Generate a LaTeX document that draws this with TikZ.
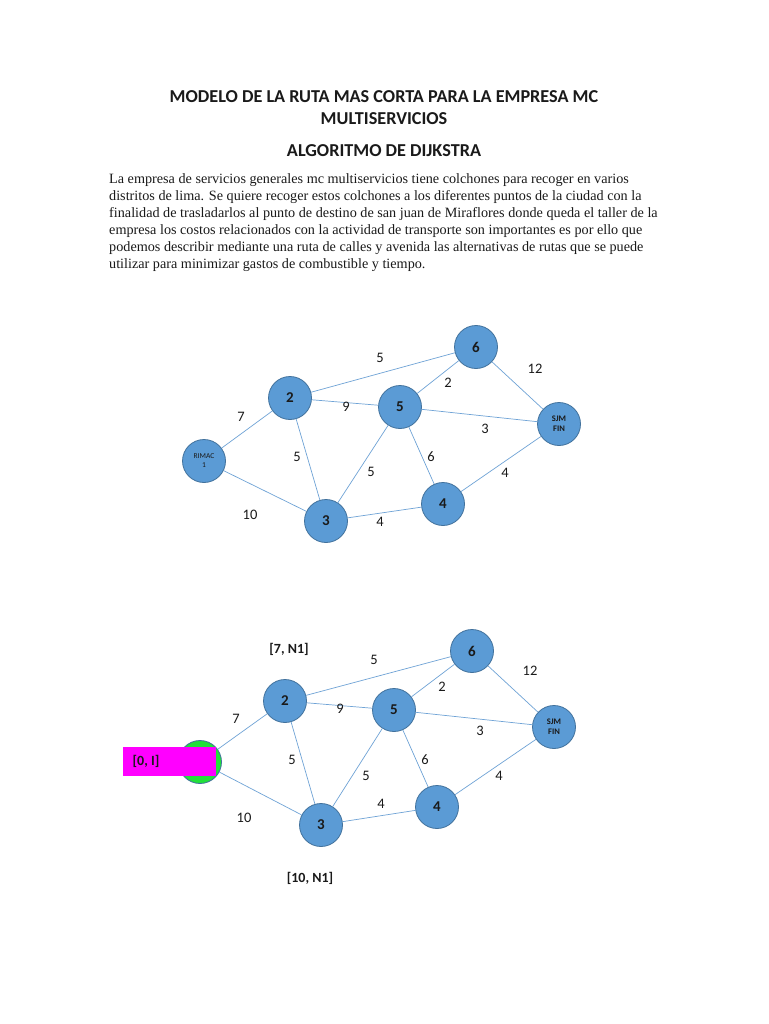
\documentclass[tikz,border=0pt]{standalone}
\usepackage{fontspec}
\setmainfont{Liberation Serif}
\newfontfamily\calibri{Carlito}
\definecolor{vfill}{HTML}{5B9BD5}
\definecolor{vborder}{HTML}{41719C}
\definecolor{edgec}{HTML}{6FA3D6}
\definecolor{gfill}{HTML}{22E03A}
\definecolor{mag}{HTML}{FF00FF}
\definecolor{txt}{HTML}{1A1A1A}
\tikzset{
  vtx/.style={circle, draw=vborder, line width=0.8pt, fill=vfill, minimum size=43pt, inner sep=0pt,
    font=\calibri\bfseries\fontsize{15}{15}\selectfont, text=txt},
  smallvtx/.style={vtx, font=\calibri\bfseries\fontsize{8.5}{10}\selectfont, align=center},
  tinyvtx/.style={vtx, font=\calibri\fontsize{7.5}{9}\selectfont, align=center},
  edg/.style={draw=edgec, line width=0.7pt},
  wlab/.style={font=\calibri\fontsize{14.5}{14.5}\selectfont, text=txt, inner sep=0pt},
  blab/.style={font=\calibri\bfseries\fontsize{14}{14}\selectfont, text=txt, inner sep=0pt},
  ttl/.style={font=\calibri\bfseries\fontsize{18.2}{20}\selectfont, text=txt, inner sep=0pt},
  para/.style={font=\fontsize{14.2}{17}\selectfont, anchor=west, inner sep=0pt, text=txt}
}
\begin{document}
\begin{tikzpicture}[x=1pt, y=-1pt]
\fill[white] (0,0) rectangle (768,1024);
\useasboundingbox (0,0) rectangle (768,1024);
% titles
\node[ttl] (t1) at (384,97) {MODELO DE LA RUTA MAS CORTA PARA LA EMPRESA MC};
\node[ttl] (t2) at (384,119) {MULTISERVICIOS};
\node[ttl] (t3) at (384,151) {ALGORITMO DE DIJKSTRA};
% paragraph
\node[para] (p1) at (109,180) {La empresa de servicios generales mc multiservicios tiene colchones para recoger en varios};
\node[para] (p2) at (109,197) {distritos de lima. Se quiere recoger estos colchones a los diferentes puntos de la ciudad con la};
\node[para] (p3) at (109,214) {finalidad de trasladarlos al punto de destino de san juan de Miraflores donde queda el taller de la};
\node[para] (p4) at (109,231) {empresa los costos relacionados con la actividad de transporte son importantes es por ello que};
\node[para] (p5) at (109,248) {podemos describir mediante una ruta de calles y avenida las alternativas de rutas que se puede};
\node[para] (p6) at (109,265) {utilizar para minimizar gastos de combustible y tiempo.};

% ---------- graph 1 ----------
\node[tinyvtx] (a1) at (204,461) {RIMAC\\1};
\node[vtx] (a2) at (290,398) {2};
\node[vtx] (a3) at (326,521) {3};
\node[vtx] (a4) at (443,504) {4};
\node[vtx] (a5) at (400,407) {5};
\node[vtx] (a6) at (476,347) {6};
\node[smallvtx] (af) at (559,424) {SJM\\FIN};
\draw[edg] (a1) -- (a2);
\draw[edg] (a1) -- (a3);
\draw[edg] (a2) -- (a6);
\draw[edg] (a2) -- (a5);
\draw[edg] (a2) -- (a3);
\draw[edg] (a5) -- (a6);
\draw[edg] (a5) -- (af);
\draw[edg] (a5) -- (a3);
\draw[edg] (a5) -- (a4);
\draw[edg] (a6) -- (af);
\draw[edg] (a3) -- (a4);
\draw[edg] (a4) -- (af);
\node[wlab] (al1) at (380,358) {5};
\node[wlab] (al2) at (535,369) {12};
\node[wlab] (al3) at (448,383) {2};
\node[wlab] (al4) at (241,417) {7};
\node[wlab] (al5) at (346,407) {9};
\node[wlab] (al6) at (485,429) {3};
\node[wlab] (al7) at (297,457) {5};
\node[wlab] (al8) at (431,457) {6};
\node[wlab] (al9) at (371,472) {5};
\node[wlab] (al10) at (505,473) {4};
\node[wlab] (al11) at (250,515) {10};
\node[wlab] (al12) at (380,522) {4};

% ---------- graph 2 ----------
\node[vtx, fill=gfill] (b1) at (200,762) {};
\node[vtx] (b2) at (285,701) {2};
\node[vtx] (b3) at (321,825) {3};
\node[vtx] (b4) at (437,807) {4};
\node[vtx] (b5) at (394,710) {5};
\node[vtx] (b6) at (472,651) {6};
\node[smallvtx] (bf) at (554,727) {SJM\\FIN};
\draw[edg] (b1) -- (b2);
\draw[edg] (b1) -- (b3);
\draw[edg] (b2) -- (b6);
\draw[edg] (b2) -- (b5);
\draw[edg] (b2) -- (b3);
\draw[edg] (b5) -- (b6);
\draw[edg] (b5) -- (bf);
\draw[edg] (b5) -- (b3);
\draw[edg] (b5) -- (b4);
\draw[edg] (b6) -- (bf);
\draw[edg] (b3) -- (b4);
\draw[edg] (b4) -- (bf);
\fill[mag] (123,747) rectangle (216,776);
\node[blab] (s0) at (146,761) {[0, I]};
\node[wlab] (bl1) at (374,660) {5};
\node[wlab] (bl2) at (530,671) {12};
\node[wlab] (bl3) at (442,687) {2};
\node[wlab] (bl4) at (236,719) {7};
\node[wlab] (bl5) at (340,709) {9};
\node[wlab] (bl6) at (480,731) {3};
\node[wlab] (bl7) at (292,760) {5};
\node[wlab] (bl8) at (425,760) {6};
\node[wlab] (bl9) at (366,776) {5};
\node[wlab] (bl10) at (499,776) {4};
\node[wlab] (bl11) at (244,818) {10};
\node[wlab] (bl12) at (381,804) {4};
\node[blab] (s2) at (289,649) {[7, N1]};
\node[blab] (s3) at (310,878) {[10, N1]};
\end{tikzpicture}
\end{document}
